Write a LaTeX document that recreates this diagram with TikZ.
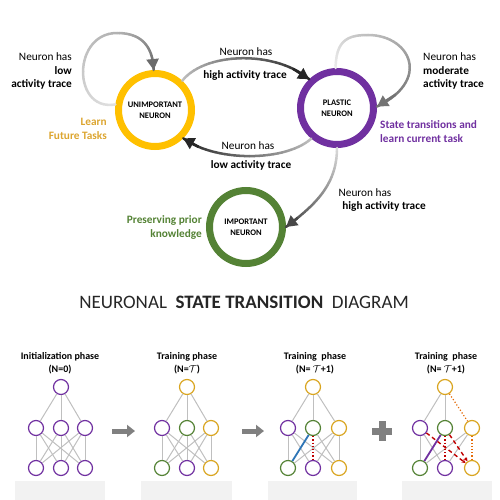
\documentclass[tikz,border=0pt]{standalone}
\usepackage{fontspec}
\setmainfont{Carlito}
\usetikzlibrary{arrows.meta,calc}
\definecolor{yel}{HTML}{FFC000}
\definecolor{yeltxt}{HTML}{DCA530}
\definecolor{netyel}{HTML}{D9A520}
\definecolor{pur}{HTML}{7030A0}
\definecolor{grn}{HTML}{548235}
\definecolor{edge}{HTML}{BFBFBF}
\definecolor{redc}{HTML}{C00000}
\definecolor{orc}{HTML}{E46C0A}
\definecolor{bluec}{HTML}{2E75B6}
\definecolor{boxc}{HTML}{F2F2F2}
\newcommand\bezpt[3]{%
  \pgfmathsetmacro\gu{1-#1}%
  \pgfmathsetmacro#2{\gu*\gu*\gu*\gax+3*\gu*\gu*#1*\gbx+3*\gu*#1*#1*\gcx+#1*#1*#1*\gdx}%
  \pgfmathsetmacro#3{\gu*\gu*\gu*\gay+3*\gu*\gu*#1*\gby+3*\gu*#1*#1*\gcy+#1*#1*#1*\gdy}%
}
\newcommand\gradarrow[7]{%
  \path (#1) coordinate (gq0) (#2) coordinate (gq1) (#3) coordinate (gq2) (#4) coordinate (gq3);
  \pgfpointanchor{gq0}{center}\pgfgetlastxy{\gax}{\gay}%
  \pgfpointanchor{gq1}{center}\pgfgetlastxy{\gbx}{\gby}%
  \pgfpointanchor{gq2}{center}\pgfgetlastxy{\gcx}{\gcy}%
  \pgfpointanchor{gq3}{center}\pgfgetlastxy{\gdx}{\gdy}%
  \foreach \ii in {0,...,29}{%
    \pgfmathsetmacro\ta{\ii/30}%
    \pgfmathsetmacro\tb{(\ii+1)/30}%
    \bezpt{\ta}{\pxa}{\pya}%
    \bezpt{\tb}{\pxb}{\pyb}%
    \pgfmathsetmacro\gv{#5+(#6-#5)*\ii/29}%
    \draw[arcline, draw=black!\gv] (\pxa pt,\pya pt) -- (\pxb pt,\pyb pt);
  }%
  \ifnum#7=1\relax
    \bezpt{0.86}{\pxa}{\pya}%
    \draw[arcline, line cap=butt, draw=black!#6, fill=black!#6, -{Triangle[length=11pt,width=12pt]}] (\pxa pt,\pya pt) -- (gq3);
  \fi
}
\begin{document}
\begin{tikzpicture}[x=1pt,y=-1pt,
  bigc/.style={circle, line width=7pt, minimum size=73pt, inner sep=0pt, align=center, font=\fontsize{8.5}{11}\selectfont\bfseries},
  lbl/.style={font=\fontsize{11.3}{13.5}\selectfont, inner sep=0pt},
  arcline/.style={line width=2.5pt, line cap=round},
  nn/.style={circle, line width=1.2pt, minimum size=15pt, inner sep=0pt},
  ed/.style={draw=edge, line width=1pt},
  phase/.style={font=\fontsize{10}{13}\selectfont\bfseries, align=center, inner sep=0pt},
  blk/.style={line width=5pt, draw=black!50, -{Triangle[length=8pt,width=12pt]}}]
\useasboundingbox (0,0) rectangle (500,500);

% state circles
\node[bigc, draw=yel] (U) at (155,110) {UNIMPORTANT\\NEURON};
\node[bigc, draw=pur] (P) at (337,108) {PLASTIC\\NEURON};
\node[bigc, draw=grn] (I) at (246,227) {IMPORTANT\\NEURON};

% transitions
\gradarrow{U.172}{72,112}{72,33}{117,33}{12}{30}{0}
\gradarrow{117,33}{143,33}{153,48}{U.92}{30}{58}{1}
\gradarrow{P.92}{336,40}{348,35}{368,35}{8}{25}{0}
\gradarrow{368,35}{410,35}{432,80}{P.2}{25}{55}{1}
\gradarrow{U.47}{205,52}{275,50}{P.134}{25}{85}{1}
\gradarrow{P.230}{285,162}{215,162}{U.-45}{25}{85}{1}
\gradarrow{P.270}{337,185}{315,205}{I.0}{15}{72}{1}

% labels
\node[lbl, align=right, anchor=east] (l1) at (72,71) {Neuron has\\\textbf{low}\\\textbf{activity trace}};
\node[lbl, align=left, anchor=west] (l2) at (423,71) {Neuron has\\\textbf{moderate}\\\textbf{activity trace}};
\node[lbl, align=right, anchor=east, text=yeltxt, font=\fontsize{11.3}{14}\selectfont\bfseries] (l3) at (107,129) {Learn\\Future Tasks};
\node[lbl, align=left, anchor=west, text=pur, font=\fontsize{11.3}{13.5}\selectfont\bfseries] (l4) at (380,131.5) {State transitions and\\learn current task};
\node[lbl, align=right, anchor=east, text=grn, font=\fontsize{11.3}{14}\selectfont\bfseries] (l5) at (202,227) {Preserving prior\\knowledge};
\node[lbl] (l6) at (246,52) {Neuron has};
\node[lbl, font=\fontsize{11.3}{13.5}\selectfont\bfseries] (l7) at (245,75) {high activity trace};
\node[lbl] (l8) at (248,146) {Neuron has};
\node[lbl, font=\fontsize{11.3}{13.5}\selectfont\bfseries] (l9) at (251,165) {low activity trace};
\node[lbl] (l10) at (365,193) {Neuron has};
\node[lbl, font=\fontsize{11.3}{13.5}\selectfont\bfseries] (l11) at (384,206) {high activity trace};

% title
\node[inner sep=0pt, text=black!85, font=\fontsize{19}{22}\selectfont] (title) at (244,302) {NEURONAL\ \ \textbf{STATE TRANSITION}\ \ DIAGRAM};

% phase labels
\node[phase] (p1) at (60,363.5) {Initialization phase\\(N=0)};
\node[phase] (p2) at (187,363.5) {Training phase\\(N=$\mathcal{T}$)};
\node[phase] (p3) at (315,363.5) {Training\ \ phase\\(N= $\mathcal{T}$+1)};
\node[phase] (p4) at (446,363.5) {Training\ \ phase\\(N= $\mathcal{T}$+1)};

% networks
\foreach \q/\xa/\xb/\xc/\ct/\cA/\cB/\cC/\cD/\cE/\cF in {1/36/61/85/pur/pur/pur/pur/pur/pur/pur, 2/162/187/211/netyel/pur/grn/netyel/grn/pur/netyel, 3/288/313/339/netyel/pur/grn/netyel/grn/pur/netyel, 4/420/445/472/netyel/pur/grn/netyel/grn/pur/netyel}{
  \node[nn, draw=\ct] (n\q-t) at (\xb,387) {};
  \node[nn, draw=\cA] (n\q-a) at (\xa,428) {};
  \node[nn, draw=\cB] (n\q-b) at (\xb,428) {};
  \node[nn, draw=\cC] (n\q-c) at (\xc,428) {};
  \node[nn, draw=\cD] (n\q-d) at (\xa,468) {};
  \node[nn, draw=\cE] (n\q-e) at (\xb,468) {};
  \node[nn, draw=\cF] (n\q-f) at (\xc,468) {};
}
\foreach \q in {1,2}{
  \foreach \mm in {a,b,c}{
    \draw[ed] (n\q-t) -- (n\q-\mm);
    \foreach \bb in {d,e,f}{\draw[ed] (n\q-\mm) -- (n\q-\bb);}
  }
}
% network 3
\foreach \mm in {a,b,c}{\draw[ed] (n3-t) -- (n3-\mm);}
\foreach \mm/\bb in {a/d,a/e,a/f,b/f,c/d,c/e,c/f}{\draw[ed] (n3-\mm) -- (n3-\bb);}
\draw[line width=1.8pt, draw=bluec] (n3-b) -- (n3-d);
\draw[line width=1.2pt, draw=redc, dotted] (n3-b) -- (n3-e);
% network 4
\foreach \mm/\bb in {t/a,t/b,a/d,a/e,c/d,c/e}{\draw[ed] (n4-\mm) -- (n4-\bb);}
\draw[line width=1.2pt, draw=orc, dotted] (n4-t) -- (n4-c);
\draw[line width=1.2pt, draw=orc, dotted] (n4-c) -- (n4-f);
\draw[line width=1.2pt, draw=redc, dotted] (n4-b) -- (n4-e);
\draw[line width=1.8pt, draw=pur] (n4-b) -- (n4-d);
\draw[line width=1.4pt, draw=redc, dash pattern=on 4pt off 3pt, -{Stealth[length=4pt,width=4pt]}] (n4-a) -- (n4-f);
\draw[line width=1.4pt, draw=redc, dash pattern=on 4pt off 3pt, -{Stealth[length=4pt,width=4pt]}] (n4-b) -- (n4-f);

% block arrows and plus
\coordinate (a1s) at (112,431); \coordinate (a1e) at (135,431);
\coordinate (a2s) at (242,431); \coordinate (a2e) at (264,431);
\draw[blk] (a1s) -- (a1e);
\draw[blk] (a2s) -- (a2e);
\fill[black!50] (372,427.5) rectangle (392,434.5);
\fill[black!50] (378.5,421) rectangle (385.5,441);

% boxes
\fill[boxc] (15,481) rectangle (105,500);
\fill[boxc] (141,481) rectangle (232,500);
\fill[boxc] (268,481) rectangle (357,500);
\fill[boxc] (402,481) rectangle (492,500);
\end{tikzpicture}
\end{document}
